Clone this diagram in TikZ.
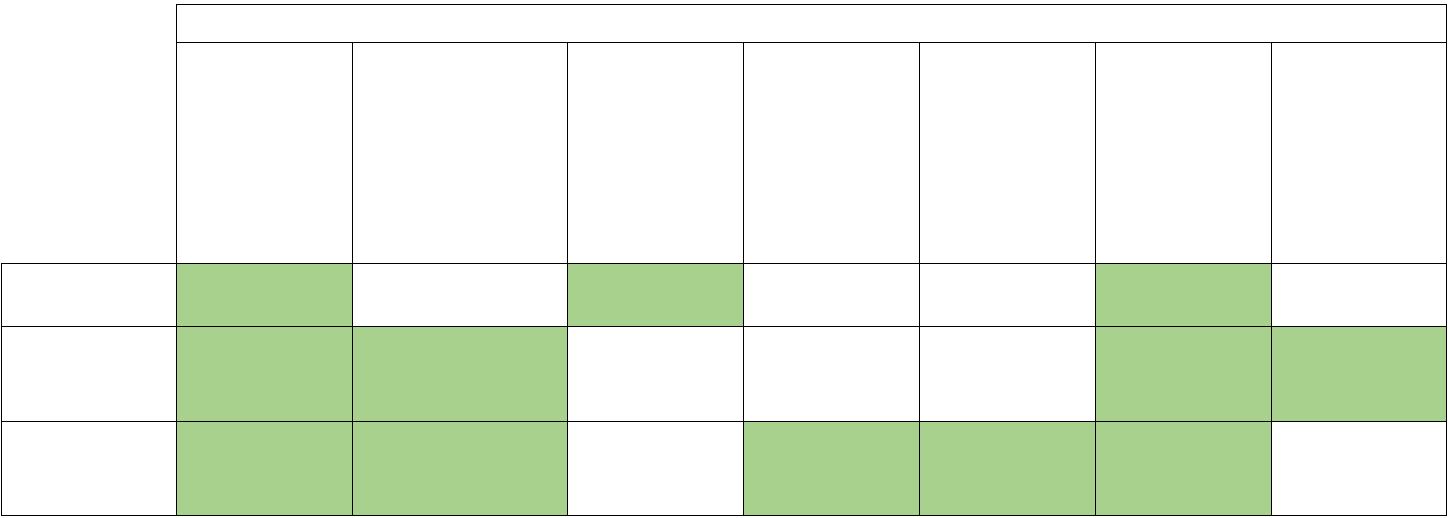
\documentclass[tikz,border=0pt]{standalone}
\definecolor{cellgreen}{HTML}{A9D18E}
\begin{document}
\begin{tikzpicture}[x=0.5pt,y=-0.5pt,cell/.style={draw=black,line width=0.5pt},on/.style={cell,fill=cellgreen}]
\useasboundingbox (0,0) rectangle (1448,518);
\def\xs{{176,352,567,743,919,1095,1271,1446}}
\def\ys{{264,327,422,516}}
% title cell
\draw[cell] (176,5) rectangle (1446,43);
% column headers
\foreach \i in {0,...,6}{
  \pgfmathsetmacro\xa{\xs[\i]}\pgfmathsetmacro\xb{\xs[\i+1]}
  \draw[cell] (\xa,43) rectangle (\xb,264);
}
% row headers
\foreach \r in {0,1,2}{
  \pgfmathsetmacro\ya{\ys[\r]}\pgfmathsetmacro\yb{\ys[\r+1]}
  \draw[cell] (1,\ya) rectangle (176,\yb);
}
% body: pattern per row
\foreach \r/\pat in {0/{1,0,1,0,0,1,0},1/{1,1,0,0,0,1,1},2/{1,1,0,1,1,1,0}}{
  \pgfmathsetmacro\ya{\ys[\r]}\pgfmathsetmacro\yb{\ys[\r+1]}
  \foreach \v [count=\c from 0] in \pat {
    \pgfmathsetmacro\xa{\xs[\c]}\pgfmathsetmacro\xb{\xs[\c+1]}
    \ifnum\v=1 \draw[on] (\xa,\ya) rectangle (\xb,\yb);
    \else \draw[cell] (\xa,\ya) rectangle (\xb,\yb); \fi
  }
}
\end{tikzpicture}
\end{document}
